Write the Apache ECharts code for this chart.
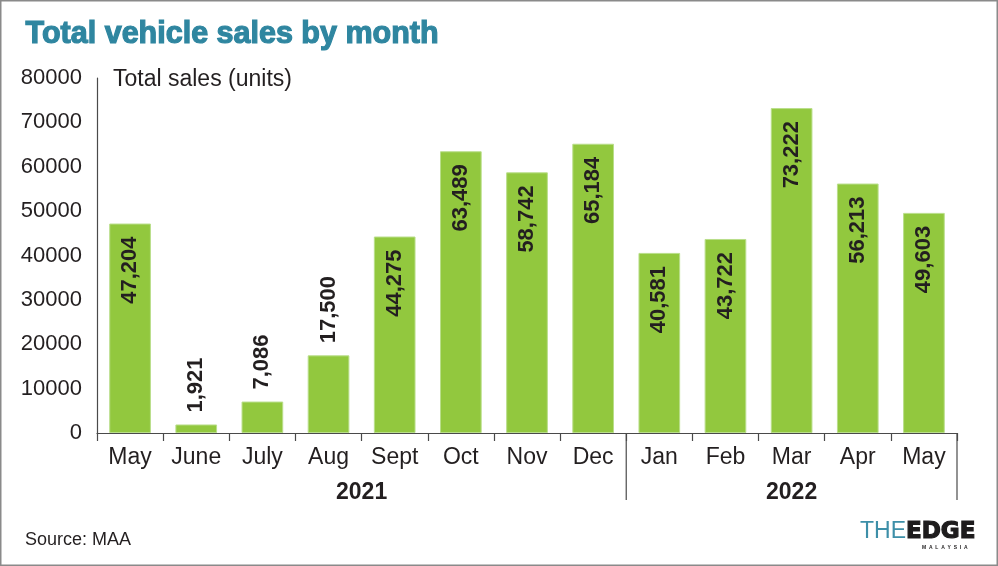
<!DOCTYPE html>
<html>
<head>
<meta charset="utf-8">
<script src="https://cdn.jsdelivr.net/npm/echarts@6/dist/echarts.min.js"></script>
<style>
html,body{margin:0;padding:0;background:#fff;}
#c{width:998px;height:566px;}
</style>
</head>
<body>
<div id="c"></div>
<script>
var months = ['May','June','July','Aug','Sept','Oct','Nov','Dec','Jan','Feb','Mar','Apr','May'];
var sales = [47204, 1921, 7086, 17500, 44275, 63489, 58742, 65184, 40581, 43722, 73222, 56213, 49603];
var years = ['2021', '2022'];
var yearCounts = [8, 5];
var yTicks = [0, 10000, 20000, 30000, 40000, 50000, 60000, 70000, 80000];

var BAR = '#92c83e';
var TXT = '#231f20';
var FONT = '"Liberation Sans", Arial, Helvetica, sans-serif';

var chart = echarts.init(document.getElementById('c'), null, {renderer: 'canvas'});

var data = sales.map(function (v) {
  var outside = v < 20000;
  return {
    value: v,
    label: outside ? {position: 'top', align: 'left', distance: 12} : {position: 'insideTop', align: 'right', distance: 13}
  };
});

var option = {
  backgroundColor: '#fff',
  animation: false,
  grid: {left: 97, right: 41, top: 78, bottom: 133, containLabel: false},
  xAxis: {
    type: 'category',
    data: months,
    axisLine: {lineStyle: {color: '#4a4a4a', width: 1.2}},
    axisTick: {show: true, length: 8, lineStyle: {color: '#4a4a4a', width: 1.2}},
    axisLabel: {color: TXT, fontSize: 23, fontFamily: FONT, margin: 13}
  },
  yAxis: {
    type: 'value',
    min: yTicks[0], max: yTicks[yTicks.length - 1], interval: 10000,
    axisLine: {show: true, lineStyle: {color: '#4a4a4a', width: 1.2}},
    axisTick: {show: false},
    splitLine: {show: false},
    axisLabel: {color: TXT, fontSize: 22, fontFamily: FONT, margin: 15, formatter: function (v) { return String(v); }}
  },
  series: [{
    type: 'bar',
    data: data,
    barCategoryGap: '37%',
    itemStyle: {color: BAR, borderColor: '#b9de8a', borderWidth: 1},
    label: {
      show: true,
      rotate: 90,
      verticalAlign: 'middle',
      color: TXT,
      fontSize: 22,
      fontWeight: 'bold',
      fontFamily: FONT,
      formatter: function (p) { return p.value.toLocaleString('en-US'); }
    }
  }],
  graphic: []
};
chart.setOption(option);

function px(i) { return chart.convertToPixel({xAxisIndex: 0}, i); }
var band = px(1) - px(0);
var y0 = chart.convertToPixel({yAxisIndex: 0}, 0);
var yTop = chart.convertToPixel({yAxisIndex: 0}, yTicks[yTicks.length - 1]);

var g = [
  {type: 'rect', shape: {x: 0.75, y: 0.75, width: 996.5, height: 564.5}, style: {fill: 'none', stroke: '#8a8a8a', lineWidth: 1.5}, z: 100},
  {type: 'text', left: 25, top: 18, style: {text: 'Total vehicle sales by month', fill: '#2f86a0', font: 'bold 30.5px ' + FONT, stroke: '#2f86a0', lineWidth: 1.2}},
  {type: 'text', left: 113, top: yTop - 10, style: {text: 'Total sales (units)', fill: TXT, font: '23px ' + FONT}},
  {type: 'text', left: 25, top: 531, style: {text: 'Source: MAA', fill: TXT, font: '18px ' + FONT}},
  {type: 'text', left: 860, top: 520, style: {
    rich: {
      the: {fill: '#3d8fa8', font: '23px ' + FONT},
      edge: {fill: '#1e1c1d', font: 'bold 23px "DejaVu Sans", sans-serif', stroke: '#1e1c1d', lineWidth: 1.2}
    },
    text: '{the|THE}{edge|EDGE}'
  }},
  {type: 'text', left: 922, top: 545, style: {text: 'M  A  L  A  Y  S  I  A', fill: '#1e1c1d', font: 'bold 5px ' + FONT}}
];

var start = 0;
for (var k = 0; k < years.length; k++) {
  var end = start + yearCounts[k];
  var xl = px(start) - band / 2;
  var xr = px(end - 1) + band / 2;
  g.push({type: 'text', x: (xl + xr) / 2, y: y0 + 60, style: {text: years[k], fill: TXT, font: 'bold 23px ' + FONT, textAlign: 'center', textVerticalAlign: 'middle'}});
  if (k > 0) {
    g.push({type: 'line', shape: {x1: xl, y1: y0, x2: xl, y2: y0 + 67}, style: {stroke: '#4a4a4a', lineWidth: 1.2}});
  }
  if (k === years.length - 1) {
    g.push({type: 'line', shape: {x1: xr, y1: y0, x2: xr, y2: y0 + 67}, style: {stroke: '#4a4a4a', lineWidth: 1.2}});
  }
  start = end;
}
chart.setOption({graphic: g});
</script>
</body>
</html>
